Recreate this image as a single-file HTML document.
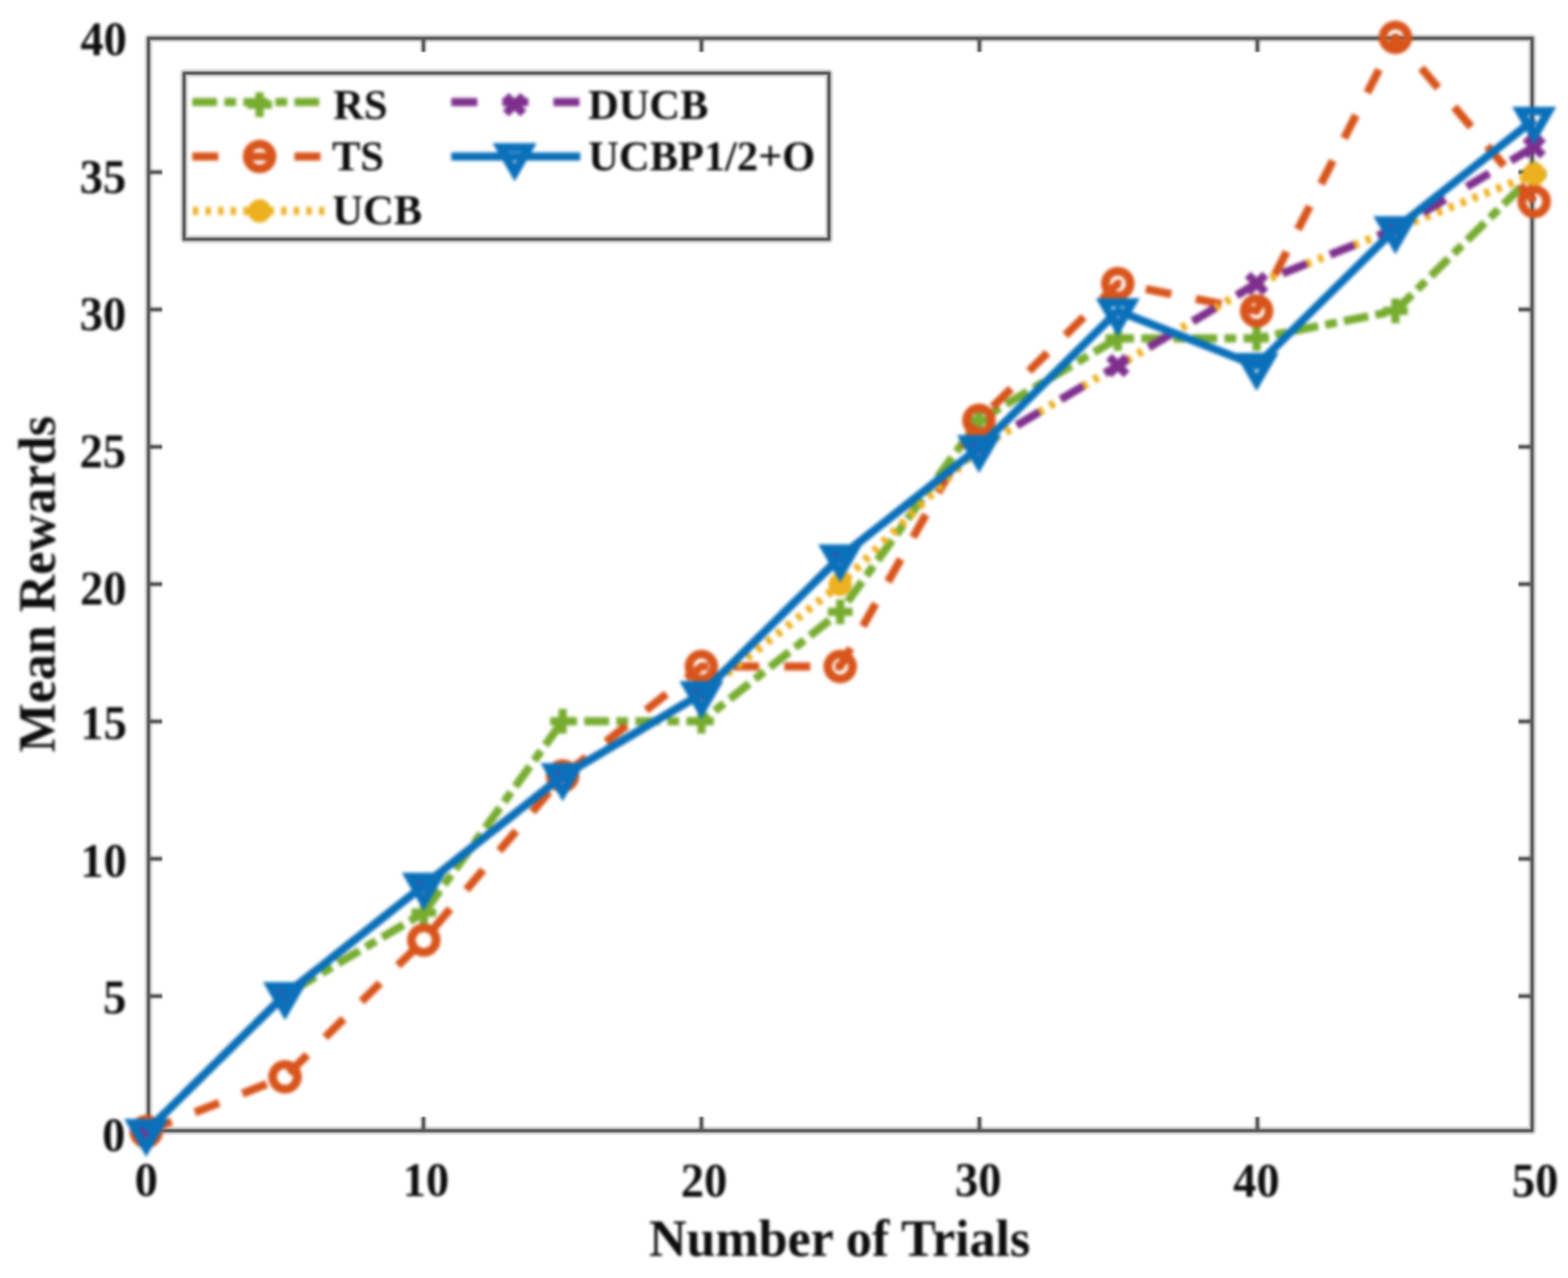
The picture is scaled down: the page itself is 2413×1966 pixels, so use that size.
<!DOCTYPE html>
<html lang="en">
<head>
<meta charset="utf-8">
<title>Mean Rewards vs Number of Trials</title>
<style>
html,body{margin:0;padding:0;background:#fff;}
body{width:2413px;height:1966px;overflow:hidden;}
svg{display:block;}
text{font-family:"Liberation Serif","DejaVu Serif",serif;font-weight:bold;fill:#0d0d0d;}
#axes,#legendbox{filter:blur(1.0px);}
#ticklabels,#labels,#legendtext{filter:blur(2.0px);}
#data,#legendkeys{filter:blur(2.5px);}
</style>
</head>
<body>
<svg width="2413" height="1966" viewBox="0 0 2413 1966">
<rect width="2413" height="1966" fill="#fff"/>
<g id="chart">
<g id="axes" fill="none" stroke-linejoin="round">
<g id="axes-halo" stroke="#000" stroke-opacity="0.16" stroke-width="12.5"><rect x="228.5" y="58.8" width="2129.3" height="1680.5"/><path stroke-width="11.0" d="M651.68 1739.3v-21M651.68 58.8v21M1079.46 1739.3v-21M1079.46 58.8v21M1507.24 1739.3v-21M1507.24 58.8v21M1935.02 1739.3v-21M1935.02 58.8v21M228.5 1532.35h21M2357.8 1532.35h-21M228.5 1321.1h21M2357.8 1321.1h-21M228.5 1109.85h21M2357.8 1109.85h-21M228.5 898.6h21M2357.8 898.6h-21M228.5 687.35h21M2357.8 687.35h-21M228.5 476.1h21M2357.8 476.1h-21M228.5 264.85h21M2357.8 264.85h-21"/></g>
<g id="axes-core" stroke="#5a5a5a" stroke-width="5.2"><rect x="228.5" y="58.8" width="2129.3" height="1680.5"/><path stroke-width="5.2" d="M651.68 1739.3v-21M651.68 58.8v21M1079.46 1739.3v-21M1079.46 58.8v21M1507.24 1739.3v-21M1507.24 58.8v21M1935.02 1739.3v-21M1935.02 58.8v21M228.5 1532.35h21M2357.8 1532.35h-21M228.5 1321.1h21M2357.8 1321.1h-21M228.5 1109.85h21M2357.8 1109.85h-21M228.5 898.6h21M2357.8 898.6h-21M228.5 687.35h21M2357.8 687.35h-21M228.5 476.1h21M2357.8 476.1h-21M228.5 264.85h21M2357.8 264.85h-21"/></g>
</g>
<g id="ticklabels">
<text id="t-x0" transform="translate(225 1840) scale(0.99 1.03)" text-anchor="middle" font-size="72">0</text>
<text id="t-x10" transform="translate(655.5 1840) scale(0.99 1.03)" text-anchor="middle" font-size="72">10</text>
<text id="t-x20" transform="translate(1083.5 1841) scale(0.99 1.03)" text-anchor="middle" font-size="72">20</text>
<text id="t-x30" transform="translate(1505.5 1840) scale(0.99 1.03)" text-anchor="middle" font-size="72">30</text>
<text id="t-x40" transform="translate(1933.5 1841) scale(0.99 1.03)" text-anchor="middle" font-size="72">40</text>
<text id="t-x50" transform="translate(2362.5 1841) scale(0.99 1.03)" text-anchor="middle" font-size="72">50</text>
<text id="t-y0" transform="translate(175 1771) scale(0.99 1.03)" text-anchor="middle" font-size="72">0</text>
<text id="t-y5" transform="translate(176.5 1559) scale(0.99 1.03)" text-anchor="middle" font-size="72">5</text>
<text id="t-y10" transform="translate(159.5 1349) scale(0.99 1.03)" text-anchor="middle" font-size="72">10</text>
<text id="t-y15" transform="translate(159.5 1137) scale(0.99 1.03)" text-anchor="middle" font-size="72">15</text>
<text id="t-y20" transform="translate(159 930) scale(0.99 1.03)" text-anchor="middle" font-size="72">20</text>
<text id="t-y25" transform="translate(158.2 719) scale(0.99 1.03)" text-anchor="middle" font-size="72">25</text>
<text id="t-y30" transform="translate(158.5 508) scale(0.99 1.03)" text-anchor="middle" font-size="72">30</text>
<text id="t-y35" transform="translate(158.5 297) scale(0.99 1.03)" text-anchor="middle" font-size="72">35</text>
<text id="t-y40" transform="translate(159.5 85) scale(0.99 1.03)" text-anchor="middle" font-size="72">40</text>
</g>
<g id="labels">
<text id="t-xlabel" transform="translate(1292 1932) scale(1 1)" text-anchor="middle" font-size="80">Number of Trials</text>
<text id="t-ylabel" transform="translate(84 898.7) rotate(-90) scale(1 1)" text-anchor="middle" font-size="80">Mean Rewards</text>
</g>
<g id="data">
<g id="s-RS">
<polyline points="225,1740.7 438.6,1530.3 652.2,1404.06 865.8,1109.5 1079.4,1109.5 1293,941.18 1506.6,646.62 1720.2,520.38 1933.8,520.38 2147.4,478.3 2361,267.9" fill="none" stroke="#77ac30" stroke-width="12.5" stroke-linejoin="round" stroke-dasharray="38 11.3 18 11.3" stroke-dashoffset="76.6"/>
<path d="M206 1740.7H244M225 1721.7V1759.7" stroke="#77ac30" stroke-width="12.5" fill="none"/>
<path d="M419.6 1530.3H457.6M438.6 1511.3V1549.3" stroke="#77ac30" stroke-width="12.5" fill="none"/>
<path d="M633.2 1404.06H671.2M652.2 1385.06V1423.06" stroke="#77ac30" stroke-width="12.5" fill="none"/>
<path d="M846.8 1109.5H884.8M865.8 1090.5V1128.5" stroke="#77ac30" stroke-width="12.5" fill="none"/>
<path d="M1060.4 1109.5H1098.4M1079.4 1090.5V1128.5" stroke="#77ac30" stroke-width="12.5" fill="none"/>
<path d="M1274 941.18H1312M1293 922.18V960.18" stroke="#77ac30" stroke-width="12.5" fill="none"/>
<path d="M1487.6 646.62H1525.6M1506.6 627.62V665.62" stroke="#77ac30" stroke-width="12.5" fill="none"/>
<path d="M1701.2 520.38H1739.2M1720.2 501.38V539.38" stroke="#77ac30" stroke-width="12.5" fill="none"/>
<path d="M1914.8 520.38H1952.8M1933.8 501.38V539.38" stroke="#77ac30" stroke-width="12.5" fill="none"/>
<path d="M2128.4 478.3H2166.4M2147.4 459.3V497.3" stroke="#77ac30" stroke-width="12.5" fill="none"/>
<path d="M2342 267.9H2380M2361 248.9V286.9" stroke="#77ac30" stroke-width="12.5" fill="none"/>
</g>
<g id="s-TS">
<polyline points="225,1740.7 438.6,1656.54 652.2,1446.14 865.8,1193.66 1079.4,1025.34 1293,1025.34 1506.6,646.62 1720.2,436.22 1933.8,478.3 2147.4,57.5 2361,309.98" fill="none" stroke="#d8541b" stroke-width="12.5" stroke-linejoin="round" stroke-dasharray="40 38.6" stroke-dashoffset="76.6"/>
<circle cx="225" cy="1740.7" r="19" stroke="#d8541b" stroke-width="13.5" fill="none"/>
<circle cx="438.6" cy="1656.54" r="19" stroke="#d8541b" stroke-width="13.5" fill="none"/>
<circle cx="652.2" cy="1446.14" r="19" stroke="#d8541b" stroke-width="13.5" fill="none"/>
<circle cx="865.8" cy="1193.66" r="19" stroke="#d8541b" stroke-width="13.5" fill="none"/>
<circle cx="1079.4" cy="1025.34" r="19" stroke="#d8541b" stroke-width="13.5" fill="none"/>
<circle cx="1293" cy="1025.34" r="19" stroke="#d8541b" stroke-width="13.5" fill="none"/>
<circle cx="1506.6" cy="646.62" r="19" stroke="#d8541b" stroke-width="13.5" fill="none"/>
<circle cx="1720.2" cy="436.22" r="19" stroke="#d8541b" stroke-width="13.5" fill="none"/>
<circle cx="1933.8" cy="478.3" r="19" stroke="#d8541b" stroke-width="13.5" fill="none"/>
<circle cx="2147.4" cy="57.5" r="19" stroke="#d8541b" stroke-width="13.5" fill="none"/>
<circle cx="2361" cy="309.98" r="19" stroke="#d8541b" stroke-width="13.5" fill="none"/>
</g>
<g id="s-UCB">
<polyline points="225,1740.7 438.6,1530.3 652.2,1361.98 865.8,1193.66 1079.4,1067.42 1293,899.1 1506.6,688.7 1720.2,562.46 1933.8,436.22 2147.4,352.06 2361,267.9" fill="none" stroke="#edb120" stroke-width="12.5" stroke-linejoin="round" stroke-dasharray="8 11.65" stroke-dashoffset="17.65"/>
<circle cx="1293" cy="899.1" r="18" fill="#edb120"/>
<circle cx="2361" cy="267.9" r="18" fill="#edb120"/>
</g>
<g id="s-DUCB">
<polyline points="225,1740.7 438.6,1530.3 652.2,1361.98 865.8,1193.66 1079.4,1067.42 1293,857.02 1506.6,688.7 1720.2,562.46 1933.8,436.22 2147.4,352.06 2361,225.82" fill="none" stroke="#7e2f8e" stroke-width="12.5" stroke-linejoin="round" stroke-dasharray="40 38.6" stroke-dashoffset="76.6"/>
<path d="M211.5 1727.2L238.5 1754.2M211.5 1754.2L238.5 1727.2" stroke="#7e2f8e" stroke-width="13" fill="none"/>
<path d="M425.1 1516.8L452.1 1543.8M425.1 1543.8L452.1 1516.8" stroke="#7e2f8e" stroke-width="13" fill="none"/>
<path d="M638.7 1348.48L665.7 1375.48M638.7 1375.48L665.7 1348.48" stroke="#7e2f8e" stroke-width="13" fill="none"/>
<path d="M852.3 1180.16L879.3 1207.16M852.3 1207.16L879.3 1180.16" stroke="#7e2f8e" stroke-width="13" fill="none"/>
<path d="M1065.9 1053.92L1092.9 1080.92M1065.9 1080.92L1092.9 1053.92" stroke="#7e2f8e" stroke-width="13" fill="none"/>
<path d="M1279.5 843.52L1306.5 870.52M1279.5 870.52L1306.5 843.52" stroke="#7e2f8e" stroke-width="13" fill="none"/>
<path d="M1493.1 675.2L1520.1 702.2M1493.1 702.2L1520.1 675.2" stroke="#7e2f8e" stroke-width="13" fill="none"/>
<path d="M1706.7 548.96L1733.7 575.96M1706.7 575.96L1733.7 548.96" stroke="#7e2f8e" stroke-width="13" fill="none"/>
<path d="M1920.3 422.72L1947.3 449.72M1920.3 449.72L1947.3 422.72" stroke="#7e2f8e" stroke-width="13" fill="none"/>
<path d="M2133.9 338.56L2160.9 365.56M2133.9 365.56L2160.9 338.56" stroke="#7e2f8e" stroke-width="13" fill="none"/>
<path d="M2347.5 212.32L2374.5 239.32M2347.5 239.32L2374.5 212.32" stroke="#7e2f8e" stroke-width="13" fill="none"/>
</g>
<g id="s-UCBP">
<polyline points="225,1740.7 438.6,1530.3 652.2,1361.98 865.8,1193.66 1079.4,1067.42 1293,857.02 1506.6,688.7 1720.2,478.3 1933.8,562.46 2147.4,352.06 2361,183.74" fill="none" stroke="#0a70ba" stroke-width="12.5" stroke-linejoin="round"/>
<path d="M202.8 1727.9H247.2L225 1766.3Z" stroke="#0a70ba" stroke-width="13.5" stroke-linejoin="miter" fill="none"/>
<path d="M416.4 1517.5H460.8L438.6 1555.9Z" stroke="#0a70ba" stroke-width="13.5" stroke-linejoin="miter" fill="none"/>
<path d="M630 1349.18H674.4L652.2 1387.58Z" stroke="#0a70ba" stroke-width="13.5" stroke-linejoin="miter" fill="none"/>
<path d="M843.6 1180.86H888L865.8 1219.26Z" stroke="#0a70ba" stroke-width="13.5" stroke-linejoin="miter" fill="none"/>
<path d="M1057.2 1054.62H1101.6L1079.4 1093.02Z" stroke="#0a70ba" stroke-width="13.5" stroke-linejoin="miter" fill="none"/>
<path d="M1270.8 844.22H1315.2L1293 882.62Z" stroke="#0a70ba" stroke-width="13.5" stroke-linejoin="miter" fill="none"/>
<path d="M1484.4 675.9H1528.8L1506.6 714.3Z" stroke="#0a70ba" stroke-width="13.5" stroke-linejoin="miter" fill="none"/>
<path d="M1698 465.5H1742.4L1720.2 503.9Z" stroke="#0a70ba" stroke-width="13.5" stroke-linejoin="miter" fill="none"/>
<path d="M1911.6 549.66H1956L1933.8 588.06Z" stroke="#0a70ba" stroke-width="13.5" stroke-linejoin="miter" fill="none"/>
<path d="M2125.2 339.26H2169.6L2147.4 377.66Z" stroke="#0a70ba" stroke-width="13.5" stroke-linejoin="miter" fill="none"/>
<path d="M2338.8 170.94H2383.2L2361 209.34Z" stroke="#0a70ba" stroke-width="13.5" stroke-linejoin="miter" fill="none"/>
</g>
</g>
<g id="legend">
<g id="legendbox" stroke-linejoin="round"><rect x="283.3" y="112.5" width="992.4" height="255.5" fill="#fff" stroke="#000" stroke-opacity="0.16" stroke-width="12.5"/><rect x="283.3" y="112.5" width="992.4" height="255.5" fill="none" stroke="#5a5a5a" stroke-width="5.2"/></g>
<g id="legendkeys">
<line x1="296" y1="157" x2="500" y2="157" stroke="#77ac30" stroke-width="12.5" stroke-dasharray="38 11.3 18 11.3"/>
<path d="M380.5 161H418.5M399.5 142V180" stroke="#77ac30" stroke-width="12.5" fill="none"/>
<line x1="296" y1="240.8" x2="500" y2="240.8" stroke="#d8541b" stroke-width="12.5" stroke-dasharray="40 38.6"/>
<circle cx="399.5" cy="240.8" r="19" stroke="#d8541b" stroke-width="13.5" fill="none"/>
<line x1="297" y1="324.6" x2="499" y2="324.6" stroke="#edb120" stroke-width="12.5" stroke-dasharray="8 11.4"/>
<circle cx="399.5" cy="324.6" r="18" fill="#edb120"/>
<line x1="694.5" y1="157" x2="898.5" y2="157" stroke="#7e2f8e" stroke-width="12.5" stroke-dasharray="40 38.6"/>
<path d="M778.5 147.5L805.5 174.5M778.5 174.5L805.5 147.5" stroke="#7e2f8e" stroke-width="13" fill="none"/>
<line x1="694.5" y1="240.8" x2="893" y2="240.8" stroke="#0a70ba" stroke-width="12.5"/>
<path d="M769.8 227H814.2L792 265.4Z" stroke="#0a70ba" stroke-width="13.5" stroke-linejoin="miter" fill="none"/>
</g>
<g id="legendtext">
<text id="t-RS" transform="translate(554.5 183) scale(0.99 1)" text-anchor="middle" font-size="66">RS</text>
<text id="t-TS" transform="translate(551 262) scale(0.99 1)" text-anchor="middle" font-size="66">TS</text>
<text id="t-UCB" transform="translate(580.5 345) scale(0.99 1)" text-anchor="middle" font-size="66">UCB</text>
<text id="t-DUCB" transform="translate(997.5 183) scale(0.99 1)" text-anchor="middle" font-size="66">DUCB</text>
<text id="t-UCBP" transform="translate(1080 262) scale(0.99 1)" text-anchor="middle" font-size="66">UCBP1/2+O</text>
</g>
</g>
</g>
</svg>
</body>
</html>
